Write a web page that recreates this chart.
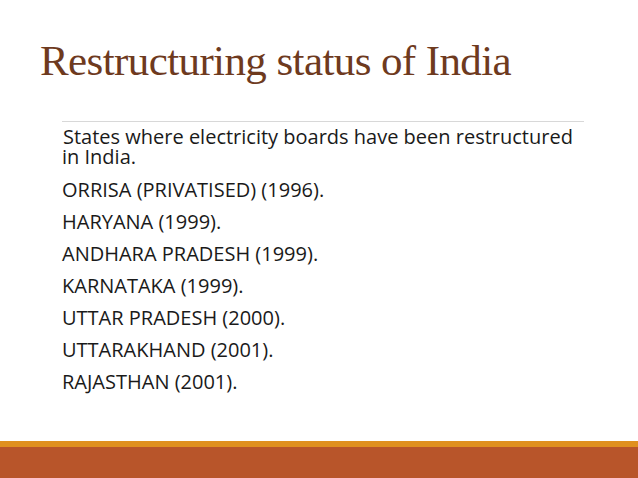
<!DOCTYPE html>
<html><head><meta charset="utf-8">
<script src="https://cdn.jsdelivr.net/npm/chart.js@4"></script>
<style>
body{margin:0;width:638px;height:478px;background:#fff;position:relative;overflow:hidden;font-family:"Open Sans","Liberation Sans",sans-serif;}
#title{position:absolute;left:40px;top:36px;font-family:"Liberation Serif","DejaVu Serif",serif;font-size:43px;color:#6e3a1e;white-space:nowrap;letter-spacing:-0.6px}
#rule{position:absolute;left:62px;top:121px;width:522px;height:1px;background:#d8d8d8}
.t{position:absolute;left:62px;font-size:20px;color:#1a1a1a;white-space:nowrap;line-height:19px;letter-spacing:0px}
#b1{position:absolute;left:0;top:441px;width:638px;height:6px;background:#e0901f}
#b2{position:absolute;left:0;top:447px;width:638px;height:31px;background:#b8552a}
</style></head><body>
<div id="title">Restructuring status of India</div>
<div id="rule"></div>
<div id="lines"></div>
<div id="b1"></div><div id="b2"></div>
<script>
const intro = ["States where electricity boards have been restructured","in India."];
const states = ["ORRISA (PRIVATISED) (1996).","HARYANA (1999).","ANDHARA PRADESH (1999).","KARNATAKA (1999).","UTTAR PRADESH (2000).","UTTARAKHAND (2001).","RAJASTHAN (2001)."];
const box=document.getElementById('lines');
function add(txt,top,left){const d=document.createElement('div');d.className='t';d.style.top=top+'px';if(left)d.style.left=left+'px';d.textContent=txt;box.appendChild(d);}
add(intro[0],127,63);add(intro[1],147,62);
states.forEach((s,i)=>add(s,180+i*32));
</script>
</body></html>
